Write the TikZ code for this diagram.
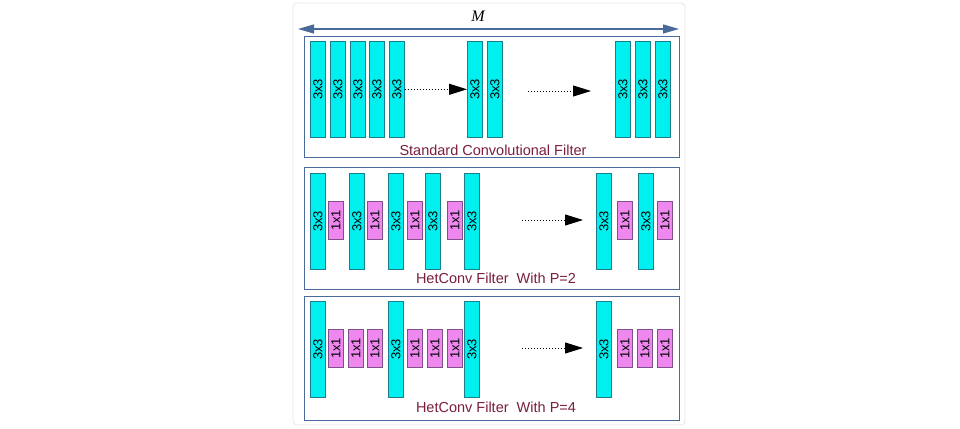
\documentclass[tikz,border=0pt]{standalone}
\usepackage{fontspec}
\setmainfont{Liberation Sans}
\usetikzlibrary{arrows.meta}
\definecolor{cy}{HTML}{00F0F0}
\definecolor{cyb}{HTML}{1C7E8C}
\definecolor{pk}{HTML}{EE88EE}
\definecolor{pkb}{HTML}{80508A}
\definecolor{frm}{HTML}{4A6A9A}
\definecolor{lab}{HTML}{7A1E3C}
\newcommand{\bl}[1]{\rotatebox{90}{\fontsize{13}{13}\selectfont #1}}
\begin{document}
\begin{tikzpicture}[x=1pt,y=-1pt,
 big/.style={draw=cyb,fill=cy,line width=0.6pt,minimum width=15pt,minimum height=96pt,inner sep=0pt,anchor=north west},
 small/.style={draw=pkb,fill=pk,line width=0.6pt,minimum width=15pt,minimum height=38pt,inner sep=0pt,anchor=north west},
 panel/.style={draw=frm,line width=0.6pt},
 plab/.style={text=lab,font=\fontsize{14.5}{15}\selectfont},
 dots/.style={dotted,line width=1pt,-{Triangle[length=18pt,width=11pt]}}]
\useasboundingbox (0,0) rectangle (960,428);
\draw[rounded corners=4pt,draw=black!10,line width=0.8pt] (293,3) rectangle (685,425);
\coordinate (ml) at (298,29); \coordinate (mr) at (679,29);
\draw[frm,line width=1.2pt,{Triangle[length=16pt,width=9pt]}-{Triangle[length=16pt,width=9pt]}] (ml) -- (mr);
\node[font=\itshape\fontsize{16}{16}\selectfont] (M) at (478,16) {\fontspec{Liberation Serif}M};
% panel 1
\draw[panel] (304,36) rectangle (679,157);
\foreach \x/\n in {310/a1,330/a2,350/a3,369/a4,389/a5,467/a6,487/a7,615/a8,635/a9,655/a10}
  \node[big] (\n) at (\x,41) {\bl{3x3}};
\coordinate (p1) at (528,91); \coordinate (q1) at (591,91);
\draw[dots] (a5.east) -- (a6.west);
\draw[dots] (p1) -- (q1);
\node[plab] (l1) at (493,150) {Standard Convolutional Filter};
% panel 2
\draw[panel] (304,167) rectangle (679,289);
\foreach \x/\n in {310/b1,349/b2,388/b3,425/b4,464/b5,596/b6,638/b7}
  \node[big] (\n) at (\x,173) {\bl{3x3}};
\foreach \x/\n in {328/c1,367/c2,407/c3,447/c4,617/c5,657/c6}
  \node[small] (\n) at (\x,201) {\bl{1x1}};
\coordinate (p2) at (522,220); \coordinate (q2) at (583,220);
\draw[dots] (p2) -- (q2);
\node[plab] (l2) at (496,278) {HetConv Filter\ \ With P=2};
% panel 3
\draw[panel] (304,296) rectangle (679,420);
\foreach \x/\n in {310/d1,388/d2,464/d3,596/d4}
  \node[big] (\n) at (\x,301) {\bl{3x3}};
\foreach \x/\n in {328/e1,348/e2,367/e3,407/e4,427/e5,447/e6,617/e7,637/e8,657/e9}
  \node[small] (\n) at (\x,329) {\bl{1x1}};
\coordinate (p3) at (522,348); \coordinate (q3) at (583,348);
\draw[dots] (p3) -- (q3);
\node[plab] (l3) at (496,407) {HetConv Filter\ \ With P=4};
\end{tikzpicture}
\end{document}
